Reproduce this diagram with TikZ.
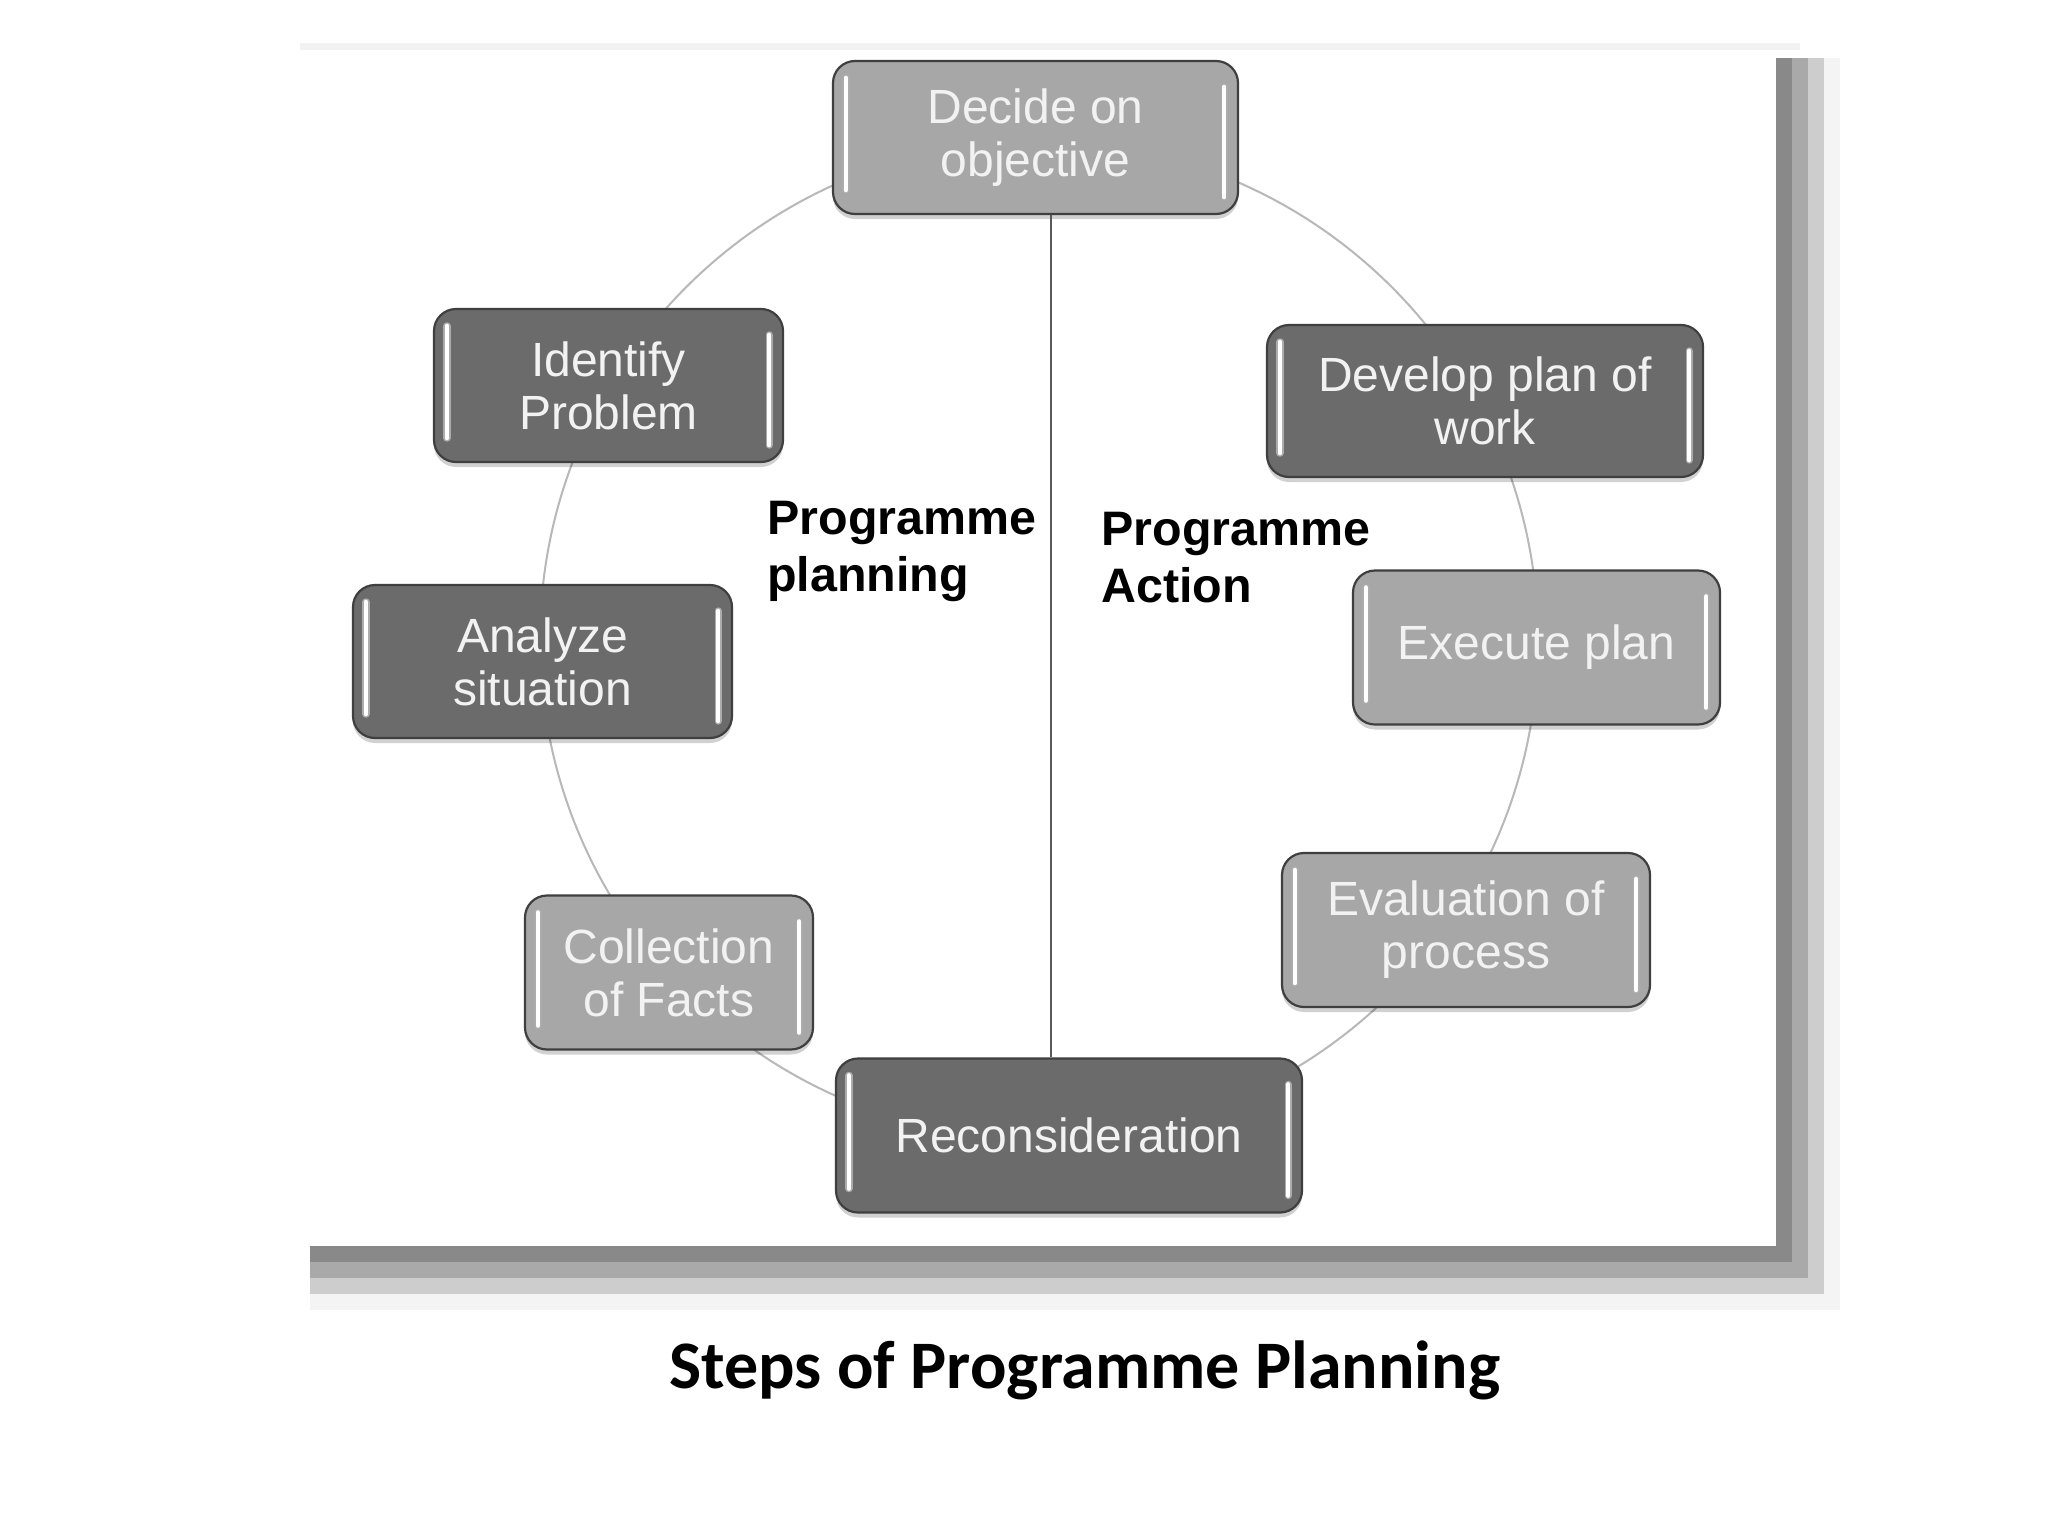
\documentclass[tikz,border=0pt]{standalone}
\usepackage{fontspec}
\setmainfont{Liberation Sans}
\newfontfamily\capfont{Carlito}
\usetikzlibrary{shadows,calc}
\definecolor{darkfill}{HTML}{6B6B6B}
\definecolor{lightfill}{HTML}{A7A7A7}
\definecolor{edgec}{HTML}{3F3F3F}
\definecolor{txtc}{HTML}{F2F2F2}
\definecolor{ringc}{HTML}{B8B8B8}
\definecolor{axisc}{HTML}{5A5A5A}
\definecolor{shA}{HTML}{898989}
\definecolor{shB}{HTML}{A9A9A9}
\definecolor{shC}{HTML}{CDCDCD}
\definecolor{shD}{HTML}{ECECEC}
\begin{document}
\begin{tikzpicture}[x=0.5pt,y=-0.5pt,
  stepbox/.style={draw=edgec, line width=1.1pt, rounded corners=11pt, inner sep=0pt,
    align=center, text=txtc, font=\fontsize{24}{26.5}\selectfont,
    drop shadow={shadow xshift=0pt, shadow yshift=-2.5pt, fill=black, opacity=0.18}},
  darkbox/.style={stepbox, fill=darkfill},
  lightbox/.style={stepbox, fill=lightfill},
  barline/.style={draw=gray!65, line width=3.6pt, line cap=round},
  barcore/.style={draw=white, line width=2.2pt, line cap=round},
  sidelabel/.style={font=\bfseries\fontsize{24.2}{28.5}\selectfont, align=left, inner sep=0pt, anchor=north west, text=black}
]
\newcommand\hibars[1]{%
  \draw[barline] ($(#1.north west)+(14,18)$) -- ($(#1.south west)+(14,-25)$);
  \draw[barcore] ($(#1.north west)+(14,18)$) -- ($(#1.south west)+(14,-25)$);
  \draw[barline] ($(#1.north east)+(-15,27)$) -- ($(#1.south east)+(-15,-18)$);
  \draw[barcore] ($(#1.north east)+(-15,27)$) -- ($(#1.south east)+(-15,-18)$);
}
\useasboundingbox (0,0) rectangle (2048,1536);
\fill[white] (0,0) rectangle (2048,1536);
% panel shadow bands
\fill[shD!60] (310,58) rectangle (1840,1310);
\fill[shC] (310,58) rectangle (1824,1294);
\fill[shB] (310,58) rectangle (1808,1278);
\fill[shA] (310,58) rectangle (1792,1262);
\fill[gray!10] (300,43) rectangle (1800,50);
\fill[white] (303,50) rectangle (1776,1246);
% ring
\draw[ringc, line width=1pt] (1039,640) circle[radius=249.5pt];
% nodes
\node[lightbox, minimum width=202.5pt, minimum height=76.5pt] (decide) at (1035.5,137.5) {Decide on\\objective};
\node[darkbox, minimum width=174.5pt, minimum height=76.5pt] (identify) at (608.5,385.5) {Identify\\Problem};
\node[darkbox, minimum width=189.5pt, minimum height=76.5pt] (analyze) at (542.5,661.5) {Analyze\\situation};
\node[lightbox, minimum width=144pt, minimum height=77pt] (collect) at (669,972.5) {Collection\\of Facts};
\node[darkbox, minimum width=233pt, minimum height=77pt] (recon) at (1069,1135.5) {Reconsideration};
\node[lightbox, minimum width=184pt, minimum height=77pt] (evalu) at (1466,930) {Evaluation of\\process};
\node[lightbox, minimum width=183.5pt, minimum height=77pt] (execute) at (1536.5,647.5) {Execute plan};
\node[darkbox, minimum width=218pt, minimum height=76pt] (develop) at (1485,401) {Develop plan of\\work};
\foreach \n in {decide,identify,analyze,collect,recon,evalu,execute,develop}{\hibars{\n}}
% axis
\coordinate (vx) at (1051,0);
\draw[axisc, line width=1pt] (decide.south -| vx) -- (recon.north -| vx);
% labels
\node[sidelabel] (plan) at (767,501) {Programme\\planning};
\node[sidelabel] (act) at (1101,512) {Programme\\Action};
\node[font=\capfont\bfseries\fontsize{34}{40}\selectfont, anchor=base, inner sep=0pt] (cap) at (1085,1388) {Steps of Programme Planning};
\end{tikzpicture}
\end{document}
